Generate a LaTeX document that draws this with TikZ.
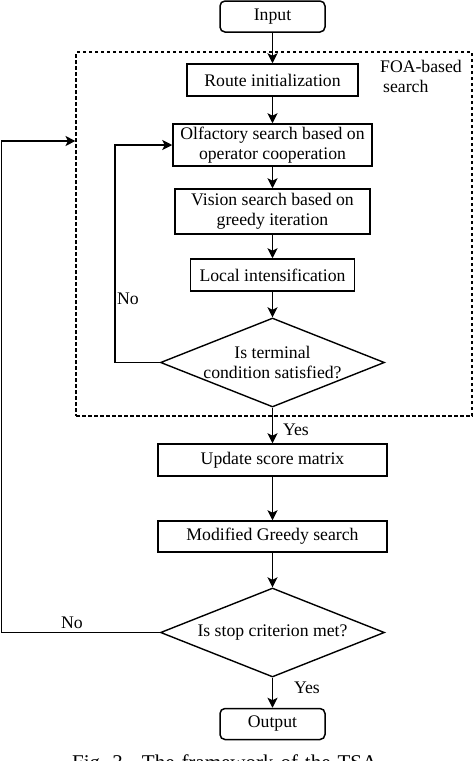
\documentclass[tikz,border=0pt]{standalone}
\usepackage{fontspec}
\setmainfont{Liberation Serif}
\usetikzlibrary{arrows.meta,shapes.geometric}
\begin{document}
\begin{tikzpicture}[x=1pt,y=-1pt,
  every node/.style={font=\fontsize{17.7}{20}\selectfont, inner sep=0pt},
  proc/.style={draw, line width=1.5pt, align=center},
  term/.style={draw, line width=1.5pt, rounded corners=5pt, minimum width=105pt, minimum height=31pt},
  decision/.style={draw, line width=1.4pt, diamond, minimum width=224pt, minimum height=89pt, inner sep=0pt},
  arr/.style={-{Stealth[length=10pt,width=10pt,inset=2.5pt]}, line width=1.5pt},
  dashbox/.style={draw, line width=1.1pt, dash pattern=on 3.5pt off 2.5pt, minimum width=396pt, minimum height=364pt}
]
\useasboundingbox (0,0) rectangle (474,761);

\node[dashbox] (foa) at (274,234) {};
\node[anchor=west, align=left] (foalbl) at (380,76) {FOA-based\\\hspace{3pt}search};

\node[term] (in) at (272.5,16.5) {Input};
\node[proc, minimum width=171pt, minimum height=32pt] (route) at (272.5,80) {Route initialization};
\node[proc, minimum width=199pt, minimum height=42pt] (olf) at (272.5,145) {Olfactory search based on\\operator cooperation};
\node[proc, minimum width=195pt, minimum height=45pt] (vis) at (272.5,211.5) {Vision search based on\\greedy iteration};
\node[proc, minimum width=164pt, minimum height=32pt] (loc) at (272.5,275) {Local intensification};
\node[decision, label={[align=center]center:Is terminal\\condition satisfied?}] (d1) at (272.5,362.5) {};
\node[proc, minimum width=229pt, minimum height=32pt] (upd) at (272.5,460) {Update score matrix};
\node[proc, minimum width=229pt, minimum height=31pt] (mod) at (272.5,536.5) {Modified Greedy search};
\node[decision, label={center:Is stop criterion met?}] (d2) at (272.5,632.5) {};
\node[term] (out) at (272.5,724) {Output};

\draw[arr] (in) -- (route);
\draw[arr] (route) -- (olf);
\draw[arr] (olf) -- (vis);
\draw[arr] (vis) -- (loc);
\draw[arr] (loc) -- (d1);
\draw[arr] (d1) -- (upd);
\draw[arr] (upd) -- (mod);
\draw[arr] (mod) -- (d2);
\draw[arr] (d2) -- (out);

\coordinate (c1) at (115,362.5);
\draw[arr] (d1.west) -- (c1) |- (olf.west);
\coordinate (c2) at (1.5,632.5);
\draw[arr] (d2.west) -- (c2) |- (foa.west |- 0,141);

\node (no1) at (128,299) {No};
\node (no2) at (72,623) {No};
\node (yes1) at (296,430) {Yes};
\node (yes2) at (307,688) {Yes};

\node[anchor=base west, font=\fontsize{21}{24}\selectfont] (cap) at (72,769) {\makebox[305pt][s]{Fig.\ 3.\ \ The framework of the TSA}};
\end{tikzpicture}
\end{document}
